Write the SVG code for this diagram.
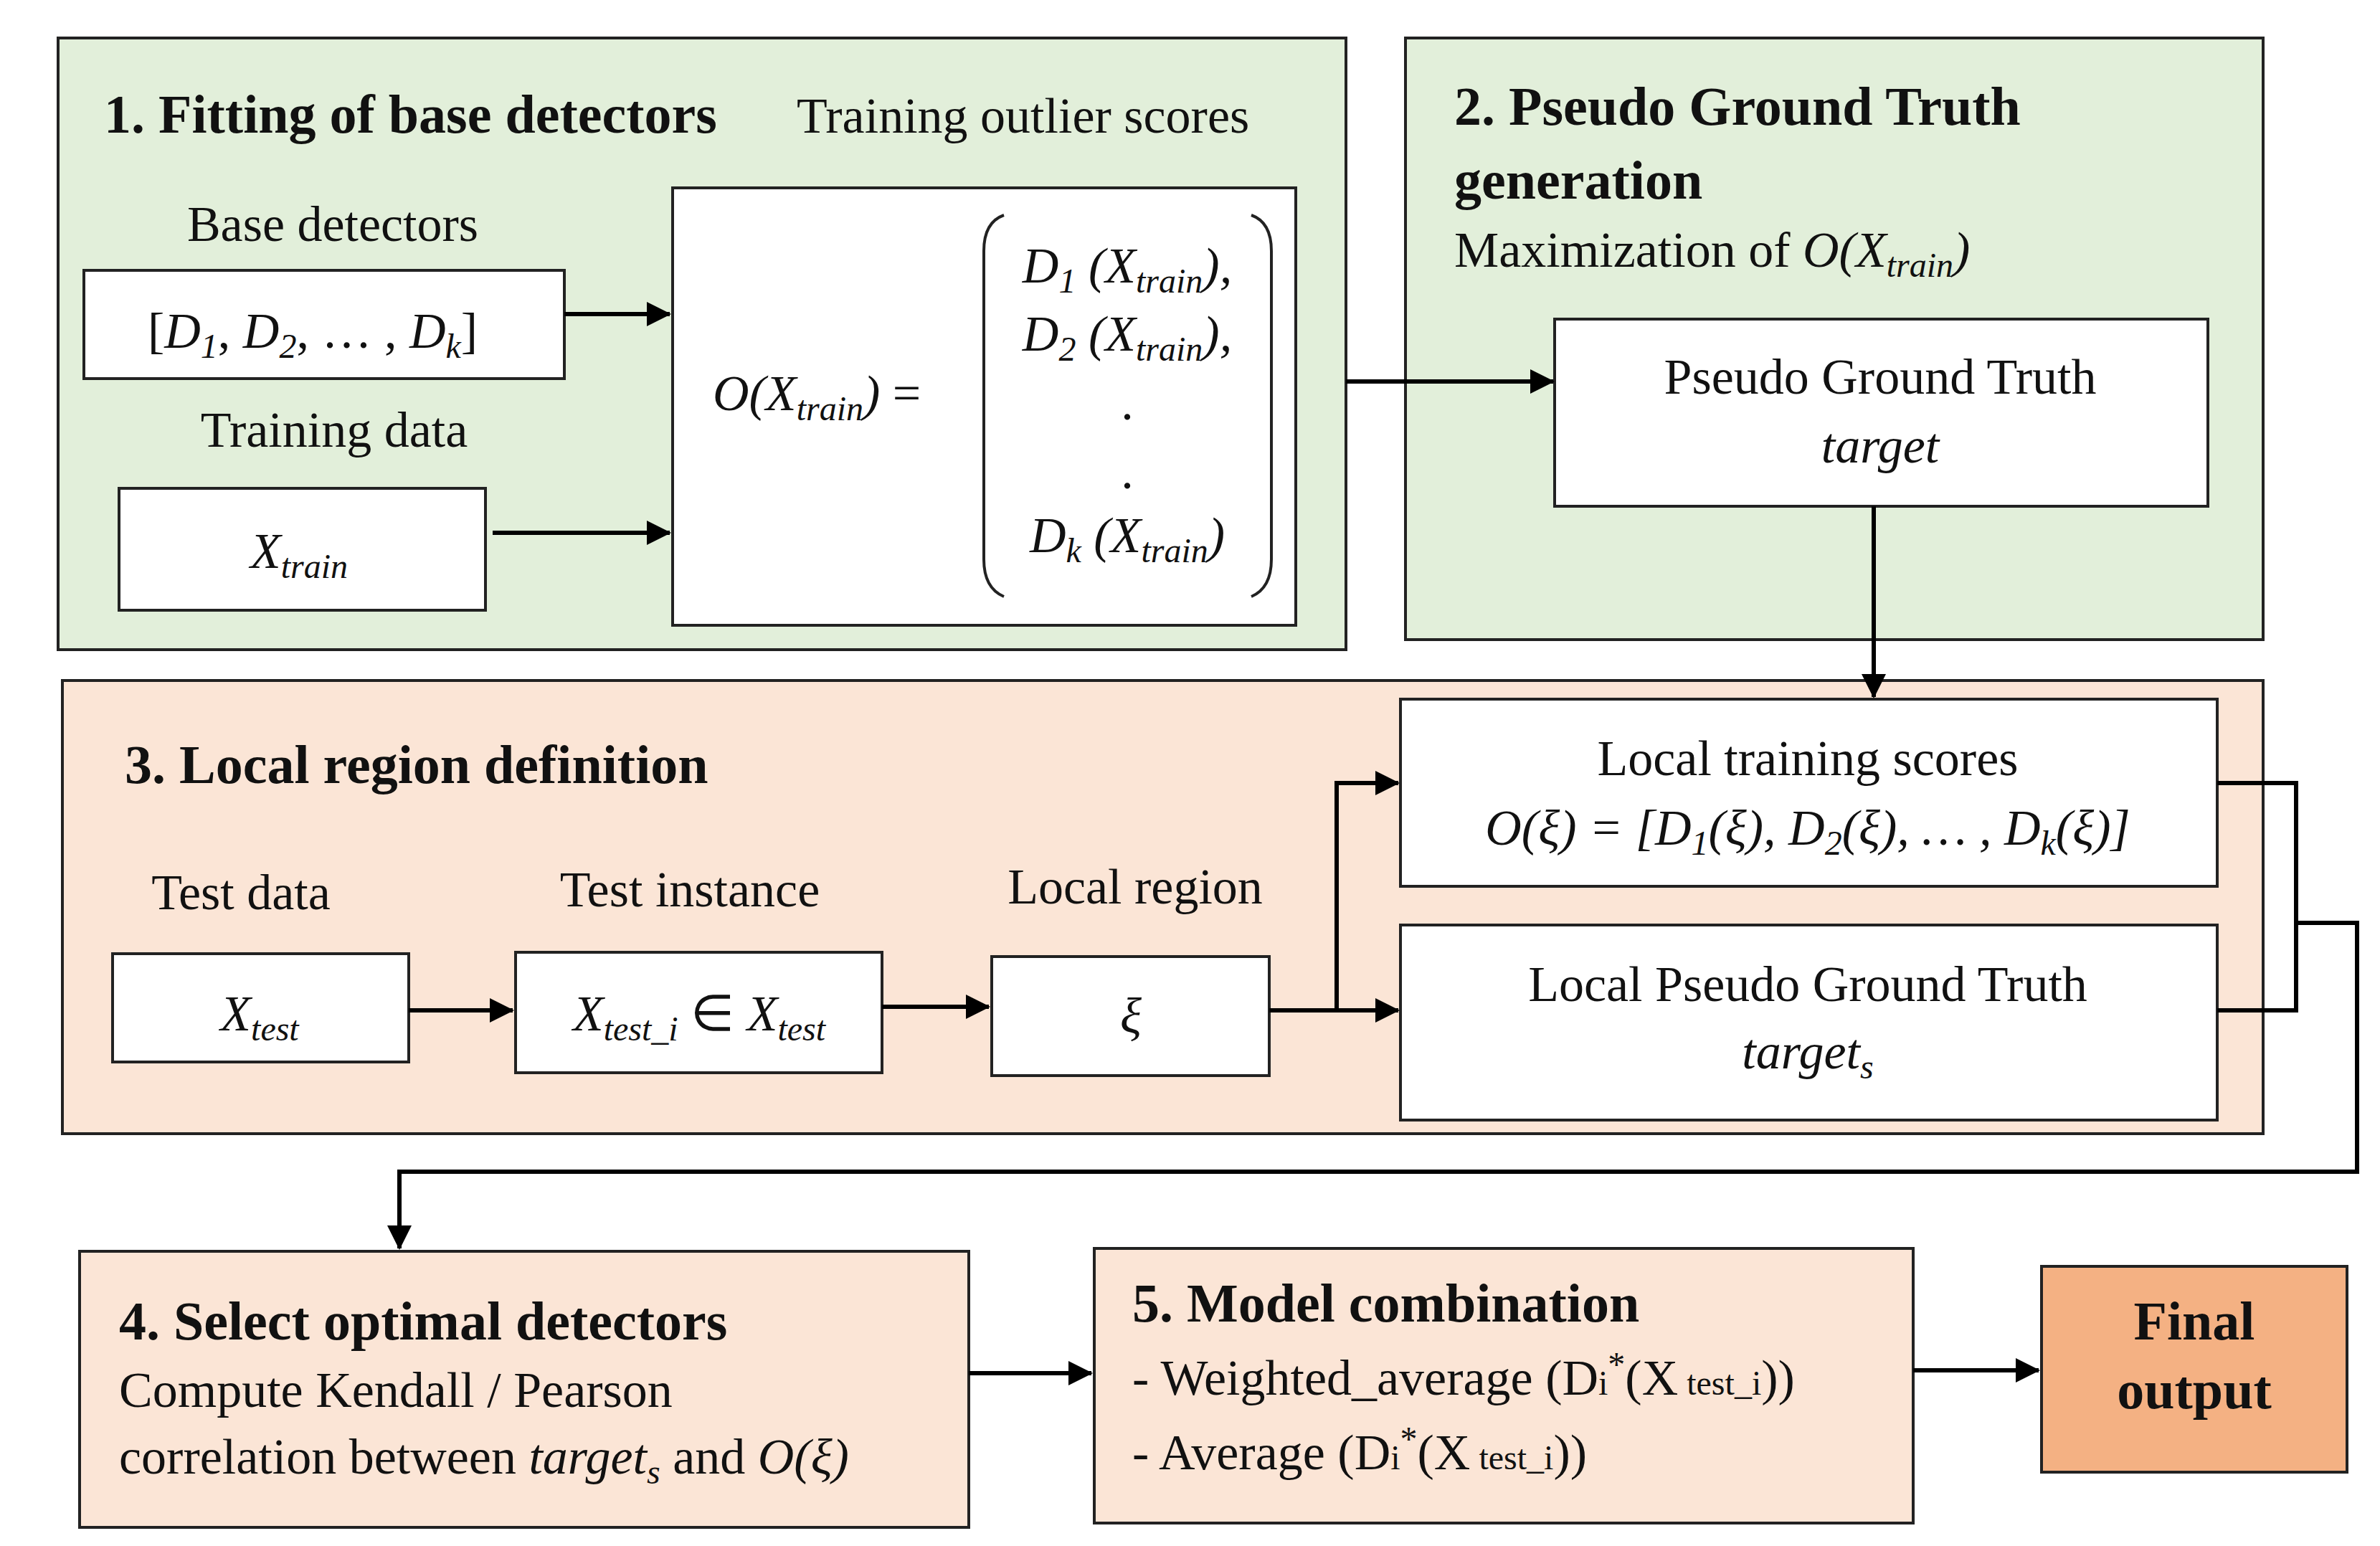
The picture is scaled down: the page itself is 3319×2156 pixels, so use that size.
<svg xmlns="http://www.w3.org/2000/svg" width="3319" height="2156" viewBox="0 0 3319 2156">
<defs>
<marker id="ah" markerWidth="34" markerHeight="34" refX="32" refY="17" orient="auto" markerUnits="userSpaceOnUse" viewBox="0 0 34 34"><path d="M0,0 L34,17 L0,34 z" fill="#000"/></marker>
<style>
text{font-family:"Liberation Serif","Times New Roman",serif;fill:#111;font-size:70px}
.t{font-weight:bold;font-size:76px}
.i{font-style:italic}
.s{font-size:48px;baseline-shift:-14px}
.g{fill:#e2efda;stroke:#222;stroke-width:4}
.p{fill:#fbe5d6;stroke:#222;stroke-width:4}
.w{fill:#fff;stroke:#222;stroke-width:4}
.c{text-anchor:middle}
.ln{fill:none;stroke:#000;stroke-width:6}
</style>
</defs>
<rect width="3319" height="2156" fill="#fff"/>
<g id="g1"><rect class="g" x="81" y="53" width="1796" height="853"/>
<text class="t" x="145" y="185">1. Fitting of base detectors</text>
<text x="1111" y="185">Training outlier scores</text>
<text class="c" x="464" y="336">Base detectors</text>
<text class="c" x="466" y="623">Training data</text></g>
<g id="detectors"><rect class="w" x="117" y="377" width="670" height="151"/>
<text class="c" x="436" y="485">[<tspan class="i">D</tspan><tspan class="i s">1</tspan>, <tspan class="i">D</tspan><tspan class="i s">2</tspan>,   … , <tspan class="i">D</tspan><tspan class="i s">k</tspan>]</text></g>
<g id="xtrain"><rect class="w" x="166" y="681" width="511" height="170"/>
<text class="c i" x="417" y="792">X<tspan class="s">train</tspan></text></g>
<g id="matrix"><rect class="w" x="938" y="262" width="869" height="610"/>
<text class="i" x="994" y="572">O(X<tspan class="s">train</tspan>) <tspan font-style="normal">=</tspan></text>
<path d="M1400,300 Q1372,310 1372,350 L1372,780 Q1372,820 1400,832" fill="none" stroke="#222" stroke-width="4"/>
<path d="M1745,300 Q1773,310 1773,350 L1773,780 Q1773,820 1745,832" fill="none" stroke="#222" stroke-width="4"/>
<text class="c i" x="1572" y="394">D<tspan class="s">1</tspan> (X<tspan class="s">train</tspan>),</text>
<text class="c i" x="1572" y="489">D<tspan class="s">2</tspan> (X<tspan class="s">train</tspan>),</text>
<text class="c" x="1572" y="585">.</text>
<text class="c" x="1572" y="681">.</text>
<text class="c i" x="1572" y="770">D<tspan class="s">k</tspan> (X<tspan class="s">train</tspan>)</text></g>
<g id="g2"><rect class="g" x="1960" y="53" width="1196" height="839"/>
<text class="t" x="2028" y="174">2. Pseudo Ground Truth</text>
<text class="t" x="2028" y="277">generation</text>
<text x="2028" y="372">Maximization of  <tspan class="i">O(X<tspan class="s">train</tspan>)</tspan></text></g>
<g id="pgt"><rect class="w" x="2168" y="445" width="911" height="261"/>
<text class="c" x="2622" y="549">Pseudo Ground Truth</text>
<text class="c i" x="2622" y="645">target</text></g>
<g id="g3"><rect class="p" x="87" y="949" width="3069" height="632"/>
<text class="t" x="174" y="1092">3. Local region definition</text>
<text class="c" x="336" y="1268">Test data</text>
<text class="c" x="962" y="1264">Test instance</text>
<text class="c" x="1583" y="1260">Local region</text></g>
<g id="xtest"><rect class="w" x="157" y="1330" width="413" height="151"/>
<text class="c i" x="362" y="1437">X<tspan class="s">test</tspan></text></g>
<g id="xtesti"><rect class="w" x="719" y="1328" width="511" height="168"/>
<text class="c i" x="975" y="1437">X<tspan class="s">test_i</tspan> <tspan font-style="normal">∈</tspan> X<tspan class="s">test</tspan></text></g>
<g id="xi"><rect class="w" x="1383" y="1334" width="387" height="166"/>
<text class="c i" x="1577" y="1440" font-size="80">ξ</text></g>
<g id="lts"><rect class="w" x="1953" y="975" width="1139" height="261"/>
<text class="c" x="2521" y="1081">Local training scores</text>
<text class="c i" x="2521" y="1178">O(ξ) = [D<tspan class="s">1</tspan>(ξ), D<tspan class="s">2</tspan>(ξ), … , D<tspan class="s">k</tspan>(ξ)]</text></g>
<g id="lpgt"><rect class="w" x="1953" y="1290" width="1139" height="272"/>
<text class="c" x="2521" y="1396">Local Pseudo Ground Truth</text>
<text class="c i" x="2521" y="1490">target<tspan class="s">s</tspan></text></g>
<g id="g4"><rect class="p" x="111" y="1745" width="1240" height="385"/>
<text class="t" x="166" y="1868">4. Select optimal detectors</text>
<text x="166" y="1962">Compute Kendall / Pearson</text>
<text x="166" y="2055">correlation between <tspan class="i">target<tspan class="s">s</tspan></tspan> and <tspan class="i">O(ξ)</tspan></text></g>
<g id="g5"><rect class="p" x="1526" y="1741" width="1142" height="383"/>
<text class="t" x="1579" y="1843">5. Model combination</text>
<text x="1579" y="1945">- Weighted_average (D<tspan font-size="48">i</tspan><tspan font-size="48" dy="-26">*</tspan><tspan dy="26">(X</tspan><tspan font-size="48"> test_i</tspan>))</text>
<text x="1579" y="2049">- Average (D<tspan font-size="48">i</tspan><tspan font-size="48" dy="-26">*</tspan><tspan dy="26">(X</tspan><tspan font-size="48"> test_i</tspan>))</text></g>
<g id="final"><rect x="2847" y="1766" width="426" height="287" fill="#f4b183" stroke="#222" stroke-width="4"/>
<text class="c t" x="3060" y="1868">Final</text>
<text class="c t" x="3060" y="1964">output</text></g>
<g id="connectors">
<path class="ln" d="M787,438 H934" marker-end="url(#ah)"/>
<path class="ln" d="M687,743 H934" marker-end="url(#ah)"/>
<path class="ln" d="M1877,532 H2166" marker-end="url(#ah)"/>
<path class="ln" d="M2613,706 V972" marker-end="url(#ah)"/>
<path class="ln" d="M570,1409 H715" marker-end="url(#ah)"/>
<path class="ln" d="M1230,1404 H1379" marker-end="url(#ah)"/>
<path class="ln" d="M1770,1409 H1950" marker-end="url(#ah)"/>
<path class="ln" d="M1864,1409 V1092 H1950" marker-end="url(#ah)"/>
<path class="ln" d="M3092,1092 H3202 V1409 H3092"/>
<path class="ln" d="M3202,1287 H3287 V1634 H557 V1741" marker-end="url(#ah)"/>
<path class="ln" d="M1351,1915 H1522" marker-end="url(#ah)"/>
<path class="ln" d="M2668,1911 H2843" marker-end="url(#ah)"/>
</g>
</svg>
